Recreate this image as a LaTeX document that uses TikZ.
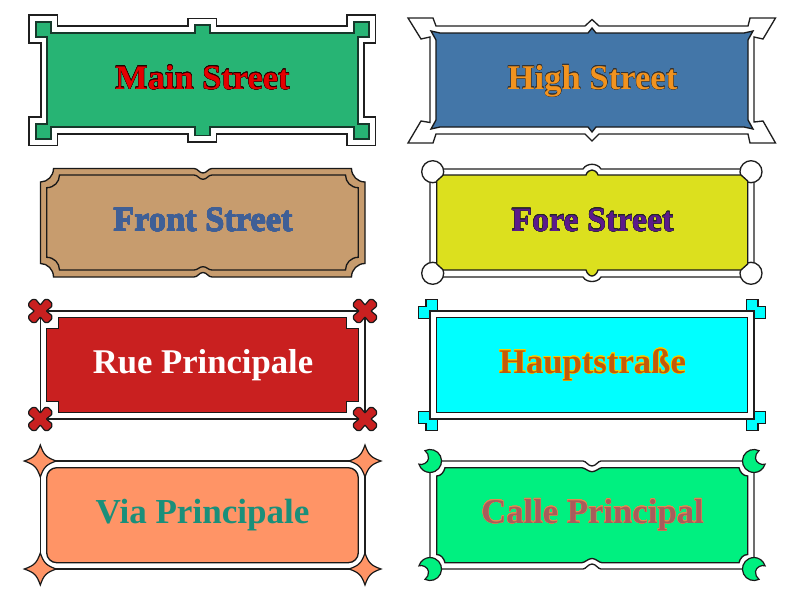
\documentclass[tikz,border=0pt]{standalone}
\usepackage{fontspec}
\usepackage{contour}
\setmainfont{Liberation Serif}
\contourlength{0.15pt}
\definecolor{mainGreen}{HTML}{27B474}
\definecolor{mainDark}{HTML}{16392B}
\definecolor{highBlue}{HTML}{4376A8}
\definecolor{highOrange}{HTML}{F2931F}
\definecolor{frontTan}{HTML}{C79C6E}
\definecolor{frontBlue}{HTML}{3F5F96}
\definecolor{foreYellow}{HTML}{DCE01E}
\definecolor{forePurple}{HTML}{5B1A8B}
\definecolor{rueRed}{HTML}{C92020}
\definecolor{hauptCyan}{HTML}{00FFFF}
\definecolor{hauptBrown}{HTML}{C25A0A}
\definecolor{hauptYellow}{HTML}{F2D000}
\definecolor{viaOrange}{HTML}{FF9466}
\definecolor{viaTeal}{HTML}{1A8F7A}
\definecolor{calleGreen}{HTML}{00F080}
\definecolor{calleRose}{HTML}{A85C5C}
\definecolor{calleOrange}{HTML}{E08A50}
\newcommand{\signFont}[1]{\fontsize{#1}{#1}\selectfont\bfseries}
\begin{document}
\begin{tikzpicture}[x=0.75pt, y=-0.75pt, line join=miter]
        \tikzset{
           frameLine/.style={
                        draw=black!88,
                        fill=white,
                        line width=1pt
                       },
           plate/.style={
                        draw=black!90,
                        line width=1pt
                       },
           markLine/.style={
                        draw=black!90,
                        line width=0.9pt
                       },
           signLabel/.style={
                        anchor=base,
                        inner sep=0pt
                       },
           crossMark/.pic={
                        \draw[markLine, fill=#1, rounded corners=0.5pt]
                              (-8,-11.5) -- (-4.5,-11.5) -- (0,-6) -- (4.5,-11.5) -- (8,-11.5) -- (11.5,-8) -- (11.5,-4.5) -- (6,0)
                              -- (11.5,4.5) -- (11.5,8) -- (8,11.5) -- (4.5,11.5) -- (0,6) -- (-4.5,11.5) -- (-8,11.5)
                              -- (-11.5,8) -- (-11.5,4.5) -- (-6,0) -- (-11.5,-4.5) -- (-11.5,-8) -- cycle;
                       },
           stepMark/.pic={
                        \draw[markLine, fill=#1]
                              (7.7,-11.7) -- (-4,-11.7) -- (-4,-4.3) -- (-11.7,-4.3) -- (-11.7,7.3)
                              -- (0,7.3) -- (0,0) -- (7.7,0) -- cycle;
                       },
           starMark/.pic={
                        \draw[markLine, fill=#1]
                              (0,-16) .. controls (3.5,-6) and (6,-3.5) .. (16,0)
                              .. controls (6,3.5) and (3.5,6) .. (0,16)
                              .. controls (-3.5,6) and (-6,3.5) .. (-16,0)
                              .. controls (-6,-3.5) and (-3.5,-6) .. (0,-16) -- cycle;
                       },
           moonMark/.pic={
                        \draw[markLine, fill=#1]
                              (-5,-10.36) arc[start angle=-116, end angle=164, radius=11.5]
                              .. controls (-8,4.5) and (-2,2) .. (-1.5,-2.5) .. controls (-1.2,-5.5) and (-2.5,-8.5) .. (-5,-10.36) -- cycle;
                       },
                 };
        \useasboundingbox (0,0) rectangle (800,600);
    %--------------------
    % Main Street
        \draw[frameLine] (29,15) -- (57.5,15) -- (57.5,26) -- (188,26) -- (188,18.5) -- (216.5,18.5) -- (216.5,26)
              -- (347,26) -- (347,15) -- (375.5,15) -- (375.5,43) -- (364,43) -- (364,117) -- (375.5,117)
              -- (375.5,145.5) -- (347,145.5) -- (347,134) -- (216.5,134) -- (216.5,142) -- (188,142) -- (188,134)
              -- (57.5,134) -- (57.5,145.5) -- (29,145.5) -- (29,117) -- (41,117) -- (41,43) -- (29,43) -- cycle;
        \draw[plate, draw=mainDark, fill=mainGreen] (36,22) -- (51,22) -- (51,33) -- (195,33) -- (195,25) -- (210,25) -- (210,33)
              -- (354,33) -- (354,22) -- (369,22) -- (369,37) -- (358,37) -- (358,124) -- (369,124) -- (369,139)
              -- (354,139) -- (354,127) -- (210,127) -- (210,135.5) -- (195,135.5) -- (195,127) -- (51,127)
              -- (51,139) -- (36,139) -- (36,124) -- (47,124) -- (47,37) -- (36,37) -- cycle;
        \node[signLabel] (mainStreet) at (202.5,89) {\signFont{25.8pt}\contour{black!85!red}{\textcolor{red!90!black}{Main Street}}};
    % High Street
        \draw[frameLine] (408,18) -- (433,18) -- (436,26) -- (585,26) -- (592,19.5) -- (599,26) -- (748,26) -- (750,18)
              -- (775.5,18) -- (763,39) -- (754,37) -- (754,122) -- (763,121) -- (775.5,143) -- (750,143) -- (748,134)
              -- (599,134) -- (592,141) -- (585,134) -- (436,134) -- (433,143) -- (408,143) -- (421,121) -- (430,122.5)
              -- (430,37) -- (421,39) -- cycle;
        \draw[plate, fill=highBlue] (431,31) -- (440,33) -- (588,33) -- (592,28) -- (596,33) -- (744,33) -- (753,31)
              -- (748,40) -- (748,120) -- (753,129) -- (744,127) -- (596,127) -- (592,132) -- (588,127) -- (440,127)
              -- (431,129) -- (436,120) -- (436,40) -- cycle;
        \node[signLabel] (highStreet) at (592.5,89) {\signFont{26pt}\contour{black!80}{\textcolor{highOrange}{High Street}}};
    % Front Street
        \draw[plate, fill=frontTan] (53.5,168.5) -- (194,168.5) .. controls (198,168.5) and (199,173) .. (203,173)
              .. controls (207,173) and (208,168.5) .. (212,168.5) -- (351.5,168.5) .. controls (351.5,176) and (357.5,182) .. (365,182)
              -- (365,263.5) .. controls (357.5,263.5) and (351.5,269.5) .. (351.5,277) -- (212,277)
              .. controls (208,277) and (207,272.5) .. (203,272.5) .. controls (199,272.5) and (198,277) .. (194,277)
              -- (53.5,277) .. controls (53.5,269.5) and (47.5,263.5) .. (40.5,263.5) -- (40.5,182)
              .. controls (47.5,182) and (53.5,176) .. (53.5,168.5) -- cycle;
        \draw[plate] (59.5,175) -- (194,175) .. controls (198,175) and (199,179.3) .. (203,179.3)
              .. controls (207,179.3) and (208,175) .. (212,175) -- (345.5,175) .. controls (345.5,182) and (351,187.7) .. (358.3,187.7)
              -- (358.3,257.3) .. controls (351,257.3) and (345.5,263) .. (345.5,270) -- (212,270)
              .. controls (208,270) and (207,266.7) .. (203,266.7) .. controls (199,266.7) and (198,270) .. (194,270)
              -- (59.5,270) .. controls (59.5,263) and (54,257.3) .. (46.7,257.3) -- (46.7,187.7)
              .. controls (54,187.7) and (59.5,182) .. (59.5,175) -- cycle;
        \node[signLabel] (frontStreet) at (203,231) {\signFont{25.8pt}\contour{frontBlue}{\textcolor{frontBlue}{Front Street}}};
    % Fore Street
        \draw[frameLine] (430,169) -- (583,169) .. controls (585,165.5) and (589,164.3) .. (592,164.3) .. controls (595,164.3) and (599,165.5) .. (601,169)
              -- (754,169) -- (754,277) -- (601,277) .. controls (599,280.5) and (595,281.5) .. (592,281.5)
              .. controls (589,281.5) and (585,280.5) .. (583,277) -- (430,277) -- cycle;
        \foreach \px/\py in {432.7/171.7, 751/171.7, 432.7/273.3, 751/273.3}
              \draw[frameLine] (\px,\py) circle[radius=11];
        \draw[plate, fill=foreYellow] (443.3,175) -- (586,175) .. controls (587,171.5) and (590,170) .. (592,170) .. controls (594,170) and (597,171.5) .. (598,175)
              -- (741,175) -- (747.7,181) -- (747.7,264) -- (741,270) -- (598,270) .. controls (597,274) and (594,276) .. (592,276)
              .. controls (590,276) and (587,274) .. (586,270) -- (443.3,270) -- (436.7,264) -- (436.7,181) -- cycle;
        \node[signLabel] (foreStreet) at (592.5,231) {\signFont{25.5pt}\contour{black!85}{\textcolor{forePurple}{Fore Street}}};
    % Rue Principale
        \draw[frameLine] (40.3,311) rectangle (365,419);
        \draw[plate, fill=rueRed] (58.3,317.7) -- (346.7,317.7) -- (346.7,328.7) -- (358.3,328.7) -- (358.3,401.7) -- (346.7,401.7)
              -- (346.7,412.7) -- (58.3,412.7) -- (58.3,401.7) -- (46.7,401.7) -- (46.7,328.7) -- (58.3,328.7) -- cycle;
        \foreach \px/\py in {40.3/311, 365/311, 40.3/419, 365/419}
              \pic at (\px,\py) {crossMark=rueRed};
        \node[signLabel] (ruePrincipale) at (203,373) {\signFont{26pt}\textcolor{white}{Rue Principale}};
    % Hauptstrasse
        \foreach \px/\py/\sx/\sy in {430/311/1/1, 754/311/-1/1, 430/419/1/-1, 754/419/-1/-1}
              \pic[xscale=\sx, yscale=\sy] at (\px,\py) {stepMark=hauptCyan};
        \draw[frameLine] (430,311) rectangle (754,419);
        \draw[plate, fill=hauptCyan] (436.7,317.7) rectangle (747.7,412.7);
        \node[signLabel] (hauptstrasse) at (592.5,373) {\signFont{26pt}\contour{hauptYellow}{\textcolor{hauptBrown}{Hauptstraße}}};
    % Via Principale
        \draw[frameLine] (40.3,461) rectangle (365,569);
        \draw[plate, fill=viaOrange, rounded corners=7.5pt] (46.7,467.7) rectangle (358.3,562.7);
        \foreach \px/\py in {40.3/461, 365/461, 40.3/569, 365/569}
              \pic at (\px,\py) {starMark=viaOrange};
        \node[signLabel] (viaPrincipale) at (202.5,523) {\signFont{26.3pt}\textcolor{viaTeal}{Via Principale}};
    % Calle Principal
        \draw[frameLine] (430,461) -- (583,461) .. controls (586,461) and (588,466) .. (592,466) .. controls (596,466) and (598,461) .. (601,461)
              -- (754,461) -- (754,569) -- (601,569) .. controls (598,569) and (596,564) .. (592,564)
              .. controls (588,564) and (586,569) .. (583,569) -- (430,569) -- cycle;
        \draw[plate, fill=calleGreen] (445,467.7) -- (581.7,467.7) .. controls (585,467.7) and (588,471.7) .. (592,471.7)
              .. controls (596,471.7) and (599,467.7) .. (602,467.7) -- (739,467.7) .. controls (740,472) and (743,476) .. (747.7,476)
              -- (747.7,554.5) .. controls (743,554.5) and (740,558.5) .. (739,562.7) -- (602,562.7)
              .. controls (599,562.7) and (596,558.5) .. (592,558.5) .. controls (588,558.5) and (585,562.7) .. (581.7,562.7)
              -- (445,562.7) .. controls (444,558.5) and (441,554.5) .. (436.7,554.5) -- (436.7,476)
              .. controls (441,476) and (444,472) .. (445,467.7) -- cycle;
        \foreach \px/\py/\sx/\sy in {430/461/1/1, 754/461/-1/1, 430/569/1/-1, 754/569/-1/-1}
              \pic[xscale=\sx, yscale=\sy] at (\px,\py) {moonMark=calleGreen};
        \node[signLabel] (callePrincipal) at (592.5,523) {\signFont{26pt}\contour{calleOrange}{\textcolor{calleRose}{Calle Principal}}};
    \end{tikzpicture}
\end{document}
